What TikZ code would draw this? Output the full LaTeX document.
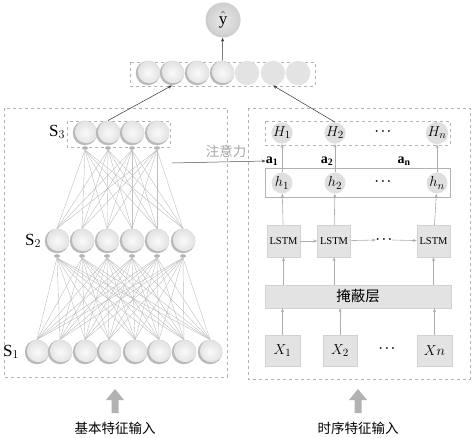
\documentclass[tikz,border=0pt]{standalone}
\usepackage{fontspec}
\setmainfont{Liberation Serif}
\newfontfamily\cjk{Noto Sans CJK SC}
\usetikzlibrary{arrows.meta,shapes.geometric}
\tikzset{
  ball/.style={circle,minimum size=24.5pt,inner sep=0pt,fill=gray!55,
    path picture={\shade[inner color=gray!4,outer color=gray!24]
      ([shift={(1.3pt,1.2pt)}]path picture bounding box.center) circle (11.4pt);}},
  flatball/.style={circle,minimum size=24.5pt,inner sep=0pt,fill=gray!22},
  nub/.style={ellipse,minimum width=6pt,minimum height=3.5pt,inner sep=0pt,fill=gray!60},
  hcirc/.style={circle,minimum size=21pt,inner sep=0pt,fill=gray!25,font=\fontsize{15}{17}\selectfont},
  gbox/.style={draw=gray!35,fill=gray!22,inner sep=0pt},
  dbox/.style={draw=gray!60,dashed,line width=0.5pt},
  grayarr/.style={draw=gray!65,line width=0.6pt,-{Stealth[length=4pt,width=3pt]}},
  blackarr/.style={draw=black!80,line width=0.5pt,-{Stealth[length=4pt,width=3pt]}},
  web/.style={draw=gray!50,line width=0.4pt},
  lbl/.style={font=\fontsize{17}{19}\selectfont,inner sep=0pt},
  alab/.style={font=\fontsize{14}{16}\selectfont\bfseries,inner sep=0pt},
  dots/.style={font=\fontsize{13}{15}\selectfont\boldmath,inner sep=0pt},
  cjkt/.style={font=\cjk\fontsize{13.5}{15}\selectfont},
  fatarrow/.style={fill=gray!60,draw=none},
}
\begin{document}
\begin{tikzpicture}[x=1pt,y=-1pt]
\useasboundingbox (0,0) rectangle (474,438);
% output
\node[circle,minimum size=35pt,inner sep=0pt,fill=gray!40,
  path picture={\shade[inner color=gray!18,outer color=gray!38]
   ([shift={(0.8pt,0.8pt)}]path picture bounding box.center) circle (16.5pt);},
  font=\fontsize{17}{19}\selectfont] (y) at (223,20) {$\hat{\mathrm{y}}$};
% top row
\draw[dbox] (130,62) rectangle (315,86);
\foreach \x [count=\i] in {148,172,197,222} \node[ball] (t\i) at (\x,73) {};
\foreach \x [count=\i from 5] in {247,273,298} \node[flatball] (t\i) at (\x,73) {};
\draw[blackarr] (t4) -- (y);
% left box
\draw[dbox] (4,108) rectangle (227,377);
\draw[dbox] (67,121) rectangle (170,147);
\foreach \x [count=\i] in {85,108,132,157} {
  \node[ball] (a\i) at (\x,133) {};
  \node[nub] (na\i) at (\x,148) {};
}
\foreach \x [count=\i] in {57,82,107,132,157,183} {
  \node[ball] (b\i) at (\x,241) {};
  \node[nub] (nb\i) at (\x,256) {};
}
\foreach \x [count=\i] in {37,60,85,109,135,159,184,210}
  \node[ball] (c\i) at (\x,352) {};
\foreach \i in {1,...,4} \foreach \j in {1,...,6}
  \draw[web] (na\i.south) -- (b\j.north);
\foreach \i in {1,...,6} \foreach \j in {1,...,8}
  \draw[web] (nb\i.south) -- (c\j.north);
\node[lbl] (ls3) at (57,132) {S$_3$};
\node[lbl] (ls2) at (33,241) {S$_2$};
\node[lbl] (ls1) at (11,352) {S$_1$};
\draw[blackarr] (a2.north) -- (t2.south);
% right box
\draw[dbox] (248,108) rectangle (470,379);
\draw[dbox] (265,121) rectangle (450,145);
\node[hcirc] (H1) at (282,133) {$H_1$};
\node[hcirc] (H2) at (335,133) {$H_2$};
\node[hcirc] (Hn) at (437,133) {$H_n$};
\node[dots] (Hd) at (383,132) {$\cdots$};
\draw[draw=gray!60,line width=0.5pt] (265,168) rectangle (450,197);
\node[hcirc] (h1) at (282,183) {$h_1$};
\node[hcirc] (h2) at (335,183) {$h_2$};
\node[hcirc] (hn) at (437,183) {$h_n$};
\node[dots] (hd) at (383,182) {$\cdots$};
\node[alab] (a1) at (272,161) {a$_{\mathbf{1}}$};
\node[alab] (a2) at (327,161) {a$_{\mathbf{2}}$};
\node[alab] (an) at (404,161) {a$_{\mathbf{n}}$};
\draw[grayarr] (h1) -- (H1);
\draw[grayarr] (h2) -- (H2);
\draw[grayarr] (hn) -- (Hn);
\draw[blackarr] (H2.north) -- (t6.south);
% LSTM
\node[gbox,minimum width=33pt,minimum height=32pt,font=\fontsize{10.5}{12}\selectfont] (L1) at (283.5,241) {LSTM};
\node[gbox,minimum width=33pt,minimum height=32pt,font=\fontsize{10.5}{12}\selectfont] (L2) at (334,241) {LSTM};
\node[gbox,minimum width=33pt,minimum height=32pt,font=\fontsize{10.5}{12}\selectfont] (Ln) at (433.5,241) {LSTM};
\node[dots] (Ld) at (384,240) {$\cdots$};
\draw[grayarr] (L1) -- (L2);
\draw[grayarr] (L2) -- (Ld.west);
\draw[grayarr] (Ld.east) -- (Ln);
\draw[grayarr] (L1) -- (h1);
\draw[grayarr] (L2) -- (h2);
\draw[grayarr] (Ln) -- (hn);
% mask
\node[gbox,minimum width=186pt,minimum height=23pt,font=\cjk\fontsize{14.5}{16}\selectfont] (M) at (358,296.5) {掩蔽层};
\draw[grayarr] (M.north -| L1) -- (L1);
\draw[grayarr] (M.north -| L2) -- (L2);
\draw[grayarr] (M.north -| Ln) -- (Ln);
% inputs
\node[gbox,minimum width=35pt,minimum height=31pt,font=\fontsize{15}{17}\selectfont] (X1) at (282.5,350.5) {$X_1$};
\node[gbox,minimum width=34pt,minimum height=31pt,font=\fontsize{15}{17}\selectfont] (X2) at (340,350.5) {$X_2$};
\node[gbox,minimum width=35pt,minimum height=31pt,font=\fontsize{15}{17}\selectfont] (Xn) at (434.5,350.5) {$Xn$};
\node[dots] (Xd) at (387,349) {$\cdots$};
\draw[grayarr] (X1) -- (X1 |- M.south);
\draw[grayarr] (X2) -- (X2 |- M.south);
\draw[grayarr] (Xn) -- (Xn |- M.south);
% attention
\coordinate (att) at (172,163);
\draw[draw=black!70,line width=0.5pt,-{Stealth[length=4pt,width=3pt]}] (att) -- (a1.west);
\node[cjkt,text=gray!70] (attl) at (226,151) {注意力};
% bottom arrows
\fill[fatarrow] (115,389) -- (124,400) -- (118.5,400) -- (118.5,413) -- (111.5,413) -- (111.5,400) -- (106,400) -- cycle;
\fill[fatarrow] (358,389) -- (367,400) -- (361.5,400) -- (361.5,413) -- (354.5,413) -- (354.5,400) -- (349,400) -- cycle;
\node[cjkt] (in1) at (115,428) {基本特征输入};
\node[cjkt] (in2) at (358,428) {时序特征输入};
\end{tikzpicture}
\end{document}
